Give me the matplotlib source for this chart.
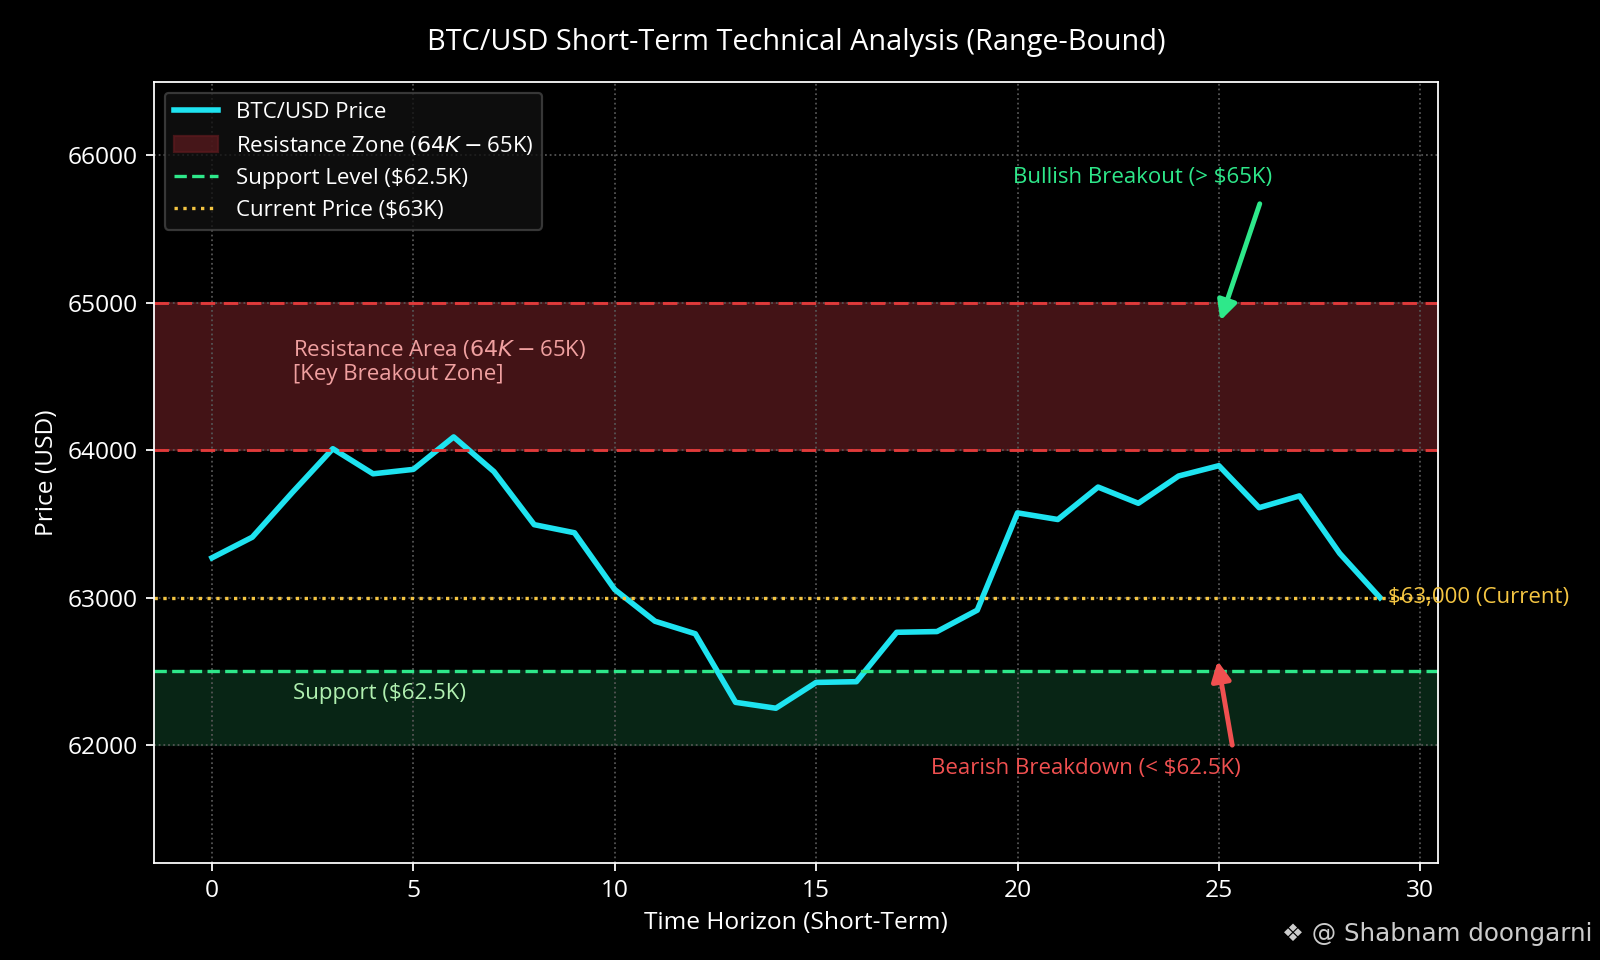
'''
BTC/USD short-term range chart with resistance and support zones.
'''

import numpy as np
import matplotlib.pyplot as plt

def main():
    plt.style.use('dark_background')
    plt.rcParams['font.family'] = ['Open Sans', 'DejaVu Sans']
    PRICE = [63270, 63410, 63715, 64010, 63840, 63870, 64090, 63855, 63495, 63440,
             63055, 62840, 62755, 62290, 62250, 62425, 62430, 62765, 62770, 62915,
             63575, 63530, 63750, 63640, 63825, 63895, 63610, 63690, 63300, 63000]
    days = np.arange(len(PRICE))
    fig, ax = plt.subplots(figsize=(10, 6), dpi=160)
    fig.patch.set_facecolor('black')
    ax.set_facecolor('black')
    ax.grid(True, linestyle=':', color='#555555', linewidth=0.8)
    ax.plot(days, PRICE, color='#1ee3f0', linewidth=2.5, label='BTC/USD Price')
    ax.axhspan(64000, 65000, color='#5a1a1e', alpha=0.75, label=r'Resistance Zone ($64K - $65K)')
    ax.axhline(65000, color='#e03a3a', linestyle=(0, (5, 3)), linewidth=1.3)
    ax.axhline(64000, color='#e03a3a', linestyle=(0, (5, 3)), linewidth=1.3)
    ax.axhspan(62000, 62500, color='#0a2a18', alpha=0.9)
    ax.axhline(62500, color='#2ee88a', linestyle='--', linewidth=1.5, label='Support Level ($62.5K)')
    ax.axhline(63000, color='#f4c542', linestyle=':', linewidth=1.5, label='Current Price ($63K)')
    ax.text(2, 64600, r'Resistance Area ($64K - $65K)' + '\n[Key Breakout Zone]', color='#f0a0a0', fontsize=10, va='center')
    ax.text(2, 62350, 'Support ($62.5K)', color='#b0f0b0', fontsize=10, va='center')
    ax.text(29.2, 63000, '$63,000 (Current)', color='#f4c542', fontsize=10, va='center')
    ax.text(23.1, 65850, 'Bullish Breakout (> $65K)', color='#2ee88a', fontsize=10, ha='center', va='center')
    ax.annotate('', xy=(25, 64850), xytext=(26.05, 65700),
                arrowprops=dict(arrowstyle='-|>', color='#2ee88a', lw=2.2, mutation_scale=18))
    ax.text(21.7, 61840, 'Bearish Breakdown (< $62.5K)', color='#f05050', fontsize=10, ha='center', va='center')
    ax.annotate('', xy=(24.95, 62600), xytext=(25.35, 61970),
                arrowprops=dict(arrowstyle='-|>', color='#f05050', lw=2.2, mutation_scale=18))
    ax.set_xlim(-1.45, 30.45)
    ax.set_ylim(61200, 66500)
    ax.legend(loc='upper left', facecolor='#111111', edgecolor='#444444', fontsize=10)
    ax.set_title('BTC/USD Short-Term Technical Analysis (Range-Bound)', fontsize=13, pad=14)
    ax.set_ylabel('Price (USD)', fontsize=11)
    ax.set_xlabel('Time Horizon (Short-Term)', fontsize=11)
    ax.tick_params(labelsize=11)
    fig.text(0.995, 0.02, '❖ @ Shabnam doongarni', color='#cccccc', fontsize=11, ha='right', family=['DejaVu Sans'])
    fig.subplots_adjust(left=0.096, right=0.899, top=0.915, bottom=0.101)
    plt.savefig('out.png')

if __name__ == '__main__':
    main()
